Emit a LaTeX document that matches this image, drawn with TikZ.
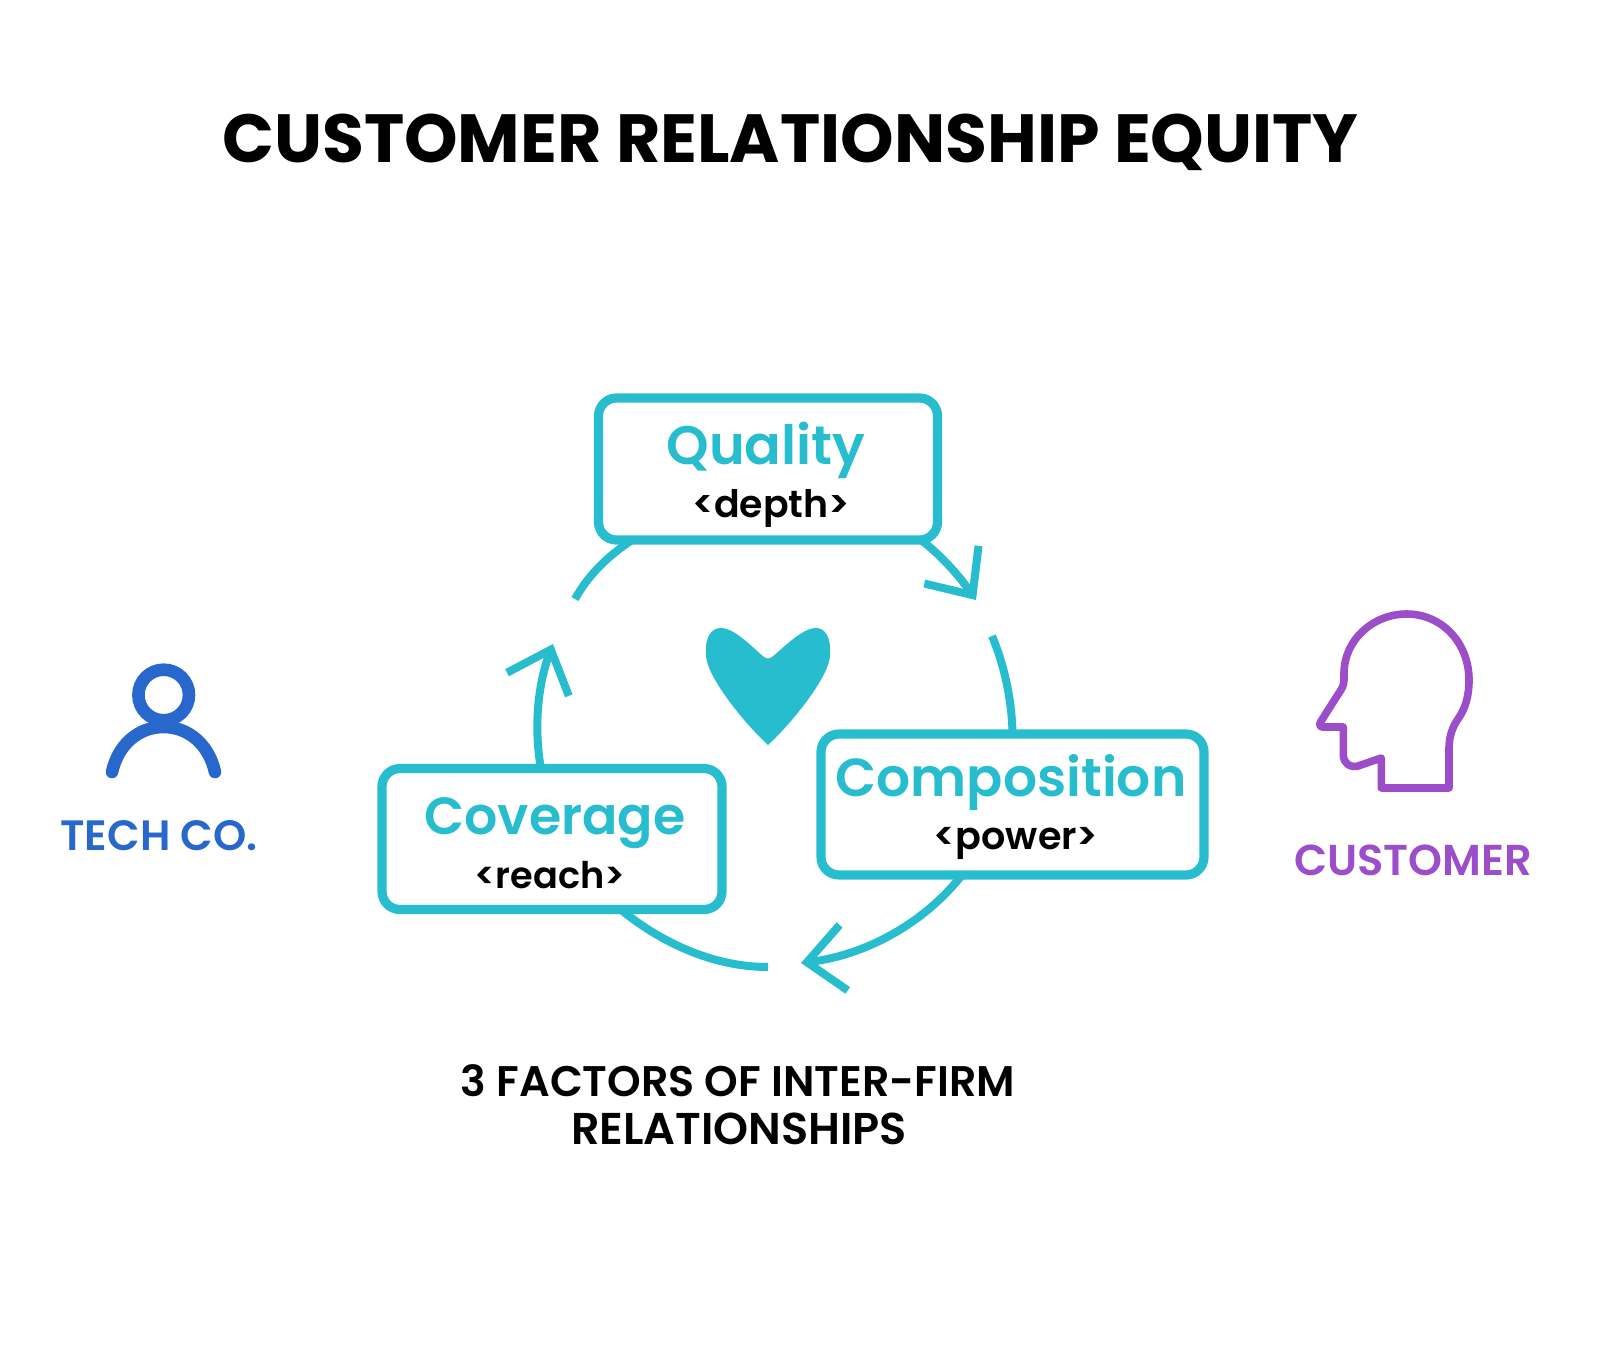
\documentclass[tikz,border=0pt]{standalone}
\usepackage{fontspec}
\usepackage{graphicx}
\setmainfont{Poppins}[BoldFont={Poppins SemiBold}]
\newfontfamily\heavyfont{Poppins}[UprightFont={* Bold}]
\usetikzlibrary{arrows.meta}
\definecolor{teal1}{HTML}{27BDCE}
\definecolor{blue1}{HTML}{2868CC}
\definecolor{purple1}{HTML}{9B4DCA}
\newcommand{\fitw}[2]{\resizebox{#1pt}{!}{\bfseries\strut #2}}
\newcommand{\fith}[2]{\resizebox{#1pt}{!}{\heavyfont\strut #2}}
\tikzset{
  box/.style={draw=teal1,line width=4.6pt,rounded corners=9pt,fill=white,inner sep=0pt,outer sep=0pt},
  txt/.style={anchor=base,inner sep=0pt,outer sep=0pt},
  flow/.style={draw=teal1,line width=4pt},
  tip/.style={-{Straight Barb[length=18.5pt,width=33pt,line width=4pt]}},
}
\begin{document}
\begin{tikzpicture}[x=0.5pt,y=-0.5pt]
\useasboundingbox[fill=white] (0,0) rectangle (1600,1370);
% title
\node[txt] (title) at (790.5,162) {\fith{568}{CUSTOMER RELATIONSHIP EQUITY}};
% boxes
\node[box,minimum width=169.5pt,minimum height=71pt] (quality) at (768,469) {};
\node[box,minimum width=191.5pt,minimum height=70.5pt] (composition) at (1012.5,804.5) {};
\node[box,minimum width=170pt,minimum height=70.5pt] (coverage) at (552,839) {};
% box texts
\node[txt,text=teal1] (qt) at (766,464) {\fitw{99.5}{Quality}};
\node[txt] (qs) at (771,517) {\fitw{79}{<depth>}};
\node[txt,text=teal1] (ct) at (1011,796) {\fitw{175.5}{Composition}};
\node[txt] (cs) at (1016,849) {\fitw{82.5}{<power>}};
\node[txt,text=teal1] (vt) at (555,834) {\fitw{130.5}{Coverage}};
\node[txt] (vs) at (550,888) {\fitw{75.5}{<reach>}};
% free ends of arcs
\coordinate (a1s) at (921,540);
\coordinate (a1e) at (976,600);
\coordinate (a2s) at (992,636);
\coordinate (a3s) at (962,875);
\coordinate (a3e) at (801,963);
\coordinate (a4s) at (768,967);
\coordinate (a4e) at (620,909);
\coordinate (a5s) at (541,769);
\coordinate (a5e) at (553,644);
\coordinate (a6s) at (575,599);
\coordinate (a6e) at (632,540);
% connectors
\draw[flow,tip] (a1s) .. controls (942,556) and (960,577) .. (a1e);
\draw[flow] (a2s) .. controls (1005,667) and (1012,702) .. (composition.north);
\draw[flow,tip] (a3s) .. controls (923.5,924) and (865,955) .. (a3e);
\draw[flow] (a4s) .. controls (716,967) and (664,945) .. (a4e);
\draw[flow,tip] (a5s) .. controls (533.5,727) and (538,684) .. (a5e);
\draw[flow] (a6s) .. controls (589,574) and (608,556) .. (a6e);
% heart
\fill[teal1,shift={(-3,-1)}] (771,746) .. controls (745,722) and (708,675) .. (709,655)
  .. controls (708,638) and (714,629) .. (724,629)
  .. controls (738,629) and (757,650) .. (767,658)
  .. controls (770,660) and (772,660) .. (775,658)
  .. controls (785,650) and (805,629) .. (819,629)
  .. controls (828,629) and (834,638) .. (833,655)
  .. controls (834,675) and (797,722) .. (771,746) -- cycle;
% person
\draw[blue1,line width=6.3pt] (163.7,695) circle (25.3);
\draw[blue1,line width=6.3pt,line cap=round] (112,772) .. controls (118,745) and (138,727) .. (163.5,727) .. controls (189,727) and (209,745) .. (215,772);
\node[txt,text=blue1] (tech) at (159,850) {\fitw{98.5}{TECH CO.}};
% head
\draw[purple1,line width=3.8pt,line join=round]
  (1381.3,788) -- (1449,788) -- (1449,748)
  .. controls (1449,736) and (1453,726) .. (1458.3,718.5)
  .. controls (1465,709) and (1469,697) .. (1469,680)
  .. controls (1469,643) and (1442,614) .. (1406.7,614)
  .. controls (1372,614) and (1344,641) .. (1344,673)
  -- (1344,680) .. controls (1344,686) and (1341,690) .. (1337,696)
  -- (1320.5,722) .. controls (1319,725) and (1320,727) .. (1323,727)
  -- (1343.3,727) -- (1343.3,755)
  .. controls (1343.3,763) and (1350,768) .. (1358,766)
  -- (1381.3,758) -- cycle;
\node[txt,text=purple1] (cust) at (1413,875) {\fitw{119}{CUSTOMER}};
% caption
\node[txt] (cap1) at (738,1096) {\fitw{277}{3 FACTORS OF INTER-FIRM}};
\node[txt] (cap2) at (739,1144) {\fitw{168}{RELATIONSHIPS}};
\end{tikzpicture}
\end{document}
